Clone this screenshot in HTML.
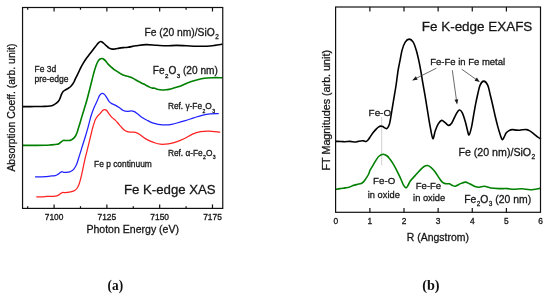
<!DOCTYPE html>
<html><head><meta charset="utf-8">
<style>
html,body{margin:0;padding:0;background:#fff;}
body{width:550px;height:298px;overflow:hidden;}
svg{display:block;}
text{font-family:"Liberation Sans",Arial,sans-serif;fill:#151515;stroke:#151515;stroke-width:0.28px;}
.d text{stroke-width:0.3px;}
.cap{font-family:"Liberation Serif","Times New Roman",serif;font-weight:bold;fill:#111;stroke-width:0;}
</style></head><body>
<svg width="550" height="298" viewBox="0 0 550 298">
<rect width="550" height="298" fill="#fff"/>
<!-- LEFT PLOT -->
<g fill="none" stroke-linejoin="round" stroke-linecap="round">
<path d="M36.80 196.90 C37.68 196.90 40.38 196.98 42.10 196.90 C43.82 196.82 45.25 196.50 47.10 196.40 C48.95 196.30 51.60 196.38 53.20 196.30 C54.80 196.22 55.70 196.18 56.70 195.90 C57.70 195.62 58.28 195.15 59.20 194.60 C60.12 194.05 61.20 192.93 62.20 192.60 C63.20 192.27 64.02 192.68 65.20 192.60 C66.38 192.52 67.95 192.35 69.30 192.10 C70.65 191.85 72.22 191.52 73.30 191.10 C74.38 190.68 75.05 190.28 75.80 189.60 C76.55 188.92 77.22 188.02 77.80 187.00 C78.38 185.98 78.83 184.83 79.30 183.50 C79.77 182.17 80.18 180.58 80.60 179.00 C81.02 177.42 81.43 175.62 81.80 174.00 C82.17 172.38 82.30 171.67 82.80 169.30 C83.30 166.93 84.08 162.92 84.80 159.80 C85.52 156.68 86.35 153.63 87.10 150.60 C87.85 147.57 88.58 144.53 89.30 141.60 C90.02 138.67 90.85 135.27 91.40 133.00 C91.95 130.73 92.20 129.48 92.60 128.00 C93.00 126.52 93.33 125.50 93.80 124.10 C94.27 122.70 94.80 120.90 95.40 119.60 C96.00 118.30 96.62 117.30 97.40 116.30 C98.18 115.30 99.23 114.57 100.10 113.60 C100.97 112.63 101.85 111.18 102.60 110.50 C103.35 109.82 103.92 109.50 104.60 109.50 C105.28 109.50 105.93 109.73 106.70 110.50 C107.47 111.27 108.28 112.92 109.20 114.10 C110.12 115.28 111.20 116.60 112.20 117.60 C113.20 118.60 114.03 118.93 115.20 120.10 C116.37 121.27 117.85 123.08 119.20 124.60 C120.55 126.12 121.95 128.02 123.30 129.20 C124.65 130.38 125.97 131.20 127.30 131.70 C128.63 132.20 129.95 132.08 131.30 132.20 C132.65 132.32 134.05 132.07 135.40 132.40 C136.75 132.73 137.60 133.08 139.40 134.20 C141.20 135.32 143.73 137.70 146.20 139.10 C148.67 140.50 151.85 141.75 154.20 142.60 C156.55 143.45 157.95 144.00 160.30 144.20 C162.65 144.40 165.62 144.20 168.30 143.80 C170.98 143.40 173.70 142.68 176.40 141.80 C179.10 140.92 181.82 139.78 184.50 138.50 C187.18 137.22 189.82 135.23 192.50 134.10 C195.18 132.97 197.92 132.20 200.60 131.70 C203.28 131.20 205.42 131.03 208.60 131.10 C211.78 131.17 217.85 131.93 219.70 132.10" stroke="#ff2020" stroke-width="1.25"/>
<path d="M35.50 176.90 C36.27 176.90 38.50 176.95 40.10 176.90 C41.70 176.85 43.43 176.73 45.10 176.60 C46.77 176.47 48.42 176.27 50.10 176.10 C51.78 175.93 53.85 175.93 55.20 175.60 C56.55 175.27 57.37 174.60 58.20 174.10 C59.03 173.60 59.57 173.02 60.20 172.60 C60.83 172.18 61.42 171.65 62.00 171.60 C62.58 171.55 62.98 172.17 63.70 172.30 C64.42 172.43 65.28 172.47 66.30 172.40 C67.32 172.33 68.80 172.20 69.80 171.90 C70.80 171.60 71.60 171.10 72.30 170.60 C73.00 170.10 73.42 169.67 74.00 168.90 C74.58 168.13 75.27 167.02 75.80 166.00 C76.33 164.98 76.58 164.57 77.20 162.80 C77.82 161.03 78.65 158.15 79.50 155.40 C80.35 152.65 81.33 149.40 82.30 146.30 C83.27 143.20 84.37 139.87 85.30 136.80 C86.23 133.73 86.93 131.40 87.90 127.90 C88.87 124.40 90.07 119.20 91.10 115.80 C92.13 112.40 93.10 109.95 94.10 107.50 C95.10 105.05 96.18 103.13 97.10 101.10 C98.02 99.07 98.77 96.60 99.60 95.30 C100.43 94.00 101.27 93.42 102.10 93.30 C102.93 93.18 103.83 93.88 104.60 94.60 C105.37 95.32 105.93 96.43 106.70 97.60 C107.47 98.77 108.37 100.60 109.20 101.60 C110.03 102.60 110.70 103.02 111.70 103.60 C112.70 104.18 113.95 104.43 115.20 105.10 C116.45 105.77 117.85 106.70 119.20 107.60 C120.55 108.50 121.95 109.87 123.30 110.50 C124.65 111.13 125.97 111.33 127.30 111.40 C128.63 111.47 130.13 110.87 131.30 110.90 C132.47 110.93 133.28 111.13 134.30 111.60 C135.32 112.07 136.08 112.72 137.40 113.70 C138.72 114.68 140.60 116.42 142.20 117.50 C143.80 118.58 145.40 119.35 147.00 120.20 C148.60 121.05 150.30 122.00 151.80 122.60 C153.30 123.20 154.60 123.47 156.00 123.80 C157.40 124.13 158.78 124.42 160.20 124.60 C161.62 124.78 163.10 124.87 164.50 124.90 C165.90 124.93 167.22 124.93 168.60 124.80 C169.98 124.67 171.40 124.40 172.80 124.10 C174.20 123.80 174.92 123.58 177.00 123.00 C179.08 122.42 182.52 121.45 185.30 120.60 C188.08 119.75 190.92 118.78 193.70 117.90 C196.48 117.02 199.22 115.98 202.00 115.30 C204.78 114.62 207.68 114.08 210.40 113.80 C213.12 113.52 216.98 113.63 218.30 113.60" stroke="#2020ff" stroke-width="1.25"/>
<path d="M23.00 145.40 C25.00 145.40 31.33 145.42 35.00 145.40 C38.67 145.38 42.33 145.38 45.00 145.30 C47.67 145.22 48.98 145.07 51.00 144.90 C53.02 144.73 55.75 144.52 57.10 144.30 C58.45 144.08 58.43 143.98 59.10 143.60 C59.77 143.22 60.43 142.52 61.10 142.00 C61.77 141.48 62.27 140.75 63.10 140.50 C63.93 140.25 65.08 140.50 66.10 140.50 C67.12 140.50 68.35 140.60 69.20 140.50 C70.05 140.40 70.53 140.20 71.20 139.90 C71.87 139.60 72.52 139.32 73.20 138.70 C73.88 138.08 74.70 137.12 75.30 136.20 C75.90 135.28 76.30 134.47 76.80 133.20 C77.30 131.93 77.68 130.58 78.30 128.60 C78.92 126.62 79.75 123.80 80.50 121.30 C81.25 118.80 82.03 116.15 82.80 113.60 C83.57 111.05 84.42 108.27 85.10 106.00 C85.78 103.73 86.15 102.73 86.90 100.00 C87.65 97.27 88.75 92.93 89.60 89.60 C90.45 86.27 91.27 82.90 92.00 80.00 C92.73 77.10 93.32 74.62 94.00 72.20 C94.68 69.78 95.42 67.35 96.10 65.50 C96.78 63.65 97.43 62.18 98.10 61.10 C98.77 60.02 99.43 59.43 100.10 59.00 C100.77 58.57 101.43 58.42 102.10 58.50 C102.77 58.58 103.43 59.00 104.10 59.50 C104.77 60.00 105.43 60.73 106.10 61.50 C106.77 62.27 107.25 63.17 108.10 64.10 C108.95 65.03 110.18 66.18 111.20 67.10 C112.22 68.02 113.00 68.73 114.20 69.60 C115.40 70.47 117.18 71.53 118.40 72.30 C119.62 73.07 120.47 73.67 121.50 74.20 C122.53 74.73 123.55 75.15 124.60 75.50 C125.65 75.85 126.75 76.00 127.80 76.30 C128.85 76.60 129.87 76.87 130.90 77.30 C131.93 77.73 132.95 78.32 134.00 78.90 C135.05 79.48 135.97 80.12 137.20 80.80 C138.43 81.48 140.00 82.30 141.40 83.00 C142.80 83.70 144.33 84.37 145.60 85.00 C146.87 85.63 147.97 86.30 149.00 86.80 C150.03 87.30 150.80 87.75 151.80 88.00 C152.80 88.25 154.12 88.10 155.00 88.30 C155.88 88.50 155.88 88.92 157.10 89.20 C158.32 89.48 160.73 89.92 162.30 90.00 C163.87 90.08 165.10 89.87 166.50 89.70 C167.90 89.53 168.62 89.52 170.70 89.00 C172.78 88.48 176.22 87.62 179.00 86.60 C181.78 85.58 184.60 83.97 187.40 82.90 C190.20 81.83 193.02 80.97 195.80 80.20 C198.58 79.43 201.32 78.72 204.10 78.30 C206.88 77.88 209.52 77.80 212.50 77.70 C215.48 77.60 220.42 77.70 222.00 77.70" stroke="#008000" stroke-width="1.6"/>
<path d="M23.00 106.60 C24.17 106.60 27.17 106.62 30.00 106.60 C32.83 106.58 37.50 106.53 40.00 106.50 C42.50 106.47 43.33 106.48 45.00 106.40 C46.67 106.32 48.65 106.20 50.00 106.00 C51.35 105.80 52.08 105.63 53.10 105.20 C54.12 104.77 55.18 104.08 56.10 103.40 C57.02 102.72 57.93 101.98 58.60 101.10 C59.27 100.22 59.60 99.27 60.10 98.10 C60.60 96.93 61.10 95.18 61.60 94.10 C62.10 93.02 62.52 92.27 63.10 91.60 C63.68 90.93 64.25 90.65 65.10 90.10 C65.95 89.55 67.27 88.90 68.20 88.30 C69.13 87.70 69.95 87.22 70.70 86.50 C71.45 85.78 72.12 84.83 72.70 84.00 C73.28 83.17 73.78 82.30 74.20 81.50 C74.62 80.70 74.53 80.60 75.20 79.20 C75.87 77.80 77.27 75.03 78.20 73.10 C79.13 71.17 79.95 69.27 80.80 67.60 C81.65 65.93 82.38 64.62 83.30 63.10 C84.22 61.58 85.17 60.08 86.30 58.50 C87.43 56.92 88.63 55.50 90.10 53.60 C91.57 51.70 93.75 48.85 95.10 47.10 C96.45 45.35 97.27 44.03 98.20 43.10 C99.13 42.17 99.87 41.53 100.70 41.50 C101.53 41.47 102.28 42.22 103.20 42.90 C104.12 43.58 105.20 44.73 106.20 45.60 C107.20 46.47 108.18 47.52 109.20 48.10 C110.22 48.68 111.28 48.97 112.30 49.10 C113.32 49.23 114.13 49.07 115.30 48.90 C116.47 48.73 117.97 48.32 119.30 48.10 C120.63 47.88 121.83 47.75 123.30 47.60 C124.77 47.45 125.97 47.50 128.10 47.20 C130.23 46.90 133.08 46.23 136.10 45.80 C139.12 45.37 142.83 44.70 146.20 44.60 C149.57 44.50 152.95 45.00 156.30 45.20 C159.65 45.40 162.95 45.77 166.30 45.80 C169.65 45.83 173.03 45.40 176.40 45.40 C179.77 45.40 183.13 45.67 186.50 45.80 C189.87 45.93 193.25 46.13 196.60 46.20 C199.95 46.27 203.58 46.33 206.60 46.20 C209.62 46.07 212.13 45.73 214.70 45.40 C217.27 45.07 220.78 44.40 222.00 44.20" stroke="#000" stroke-width="1.6"/>
</g>
<g stroke="#111" stroke-width="1.2"><line x1="27.68" y1="208.4" x2="27.68" y2="206.20"/><line x1="27.68" y1="7.5" x2="27.68" y2="9.70"/><line x1="54.08" y1="208.4" x2="54.08" y2="204.40"/><line x1="54.08" y1="7.5" x2="54.08" y2="11.50"/><line x1="80.48" y1="208.4" x2="80.48" y2="206.20"/><line x1="80.48" y1="7.5" x2="80.48" y2="9.70"/><line x1="106.88" y1="208.4" x2="106.88" y2="204.40"/><line x1="106.88" y1="7.5" x2="106.88" y2="11.50"/><line x1="133.28" y1="208.4" x2="133.28" y2="206.20"/><line x1="133.28" y1="7.5" x2="133.28" y2="9.70"/><line x1="159.68" y1="208.4" x2="159.68" y2="204.40"/><line x1="159.68" y1="7.5" x2="159.68" y2="11.50"/><line x1="186.08" y1="208.4" x2="186.08" y2="206.20"/><line x1="186.08" y1="7.5" x2="186.08" y2="9.70"/><line x1="212.48" y1="208.4" x2="212.48" y2="204.40"/><line x1="212.48" y1="7.5" x2="212.48" y2="11.50"/></g>
<rect x="22.55" y="7.5" width="200.2" height="200.9" fill="none" stroke="#111" stroke-width="1.2"/>
<g class="d" font-size="8.4"><text x="54.08" y="219.9" text-anchor="middle">7100</text><text x="106.88" y="219.9" text-anchor="middle">7125</text><text x="159.68" y="219.9" text-anchor="middle">7150</text><text x="212.48" y="219.9" text-anchor="middle">7175</text></g>
<text x="86.4" y="232.5" font-size="10.55">Photon Energy (eV)</text>
<text transform="translate(14.9,171.6) rotate(-90)" font-size="10.45">Absorption Coeff. (arb. unit)</text>
<text x="144.4" y="35.7" font-size="10.3">Fe (20 nm)/SiO<tspan dx="0.4" dy="3.5" font-size="0.62em">2</tspan><tspan dy="-3.5"></tspan></text>
<text x="152.8" y="74.2" font-size="10.1">Fe<tspan dx="0.4" dy="3.5" font-size="0.62em">2</tspan><tspan dy="-3.5">O<tspan dx="0.4" dy="3.5" font-size="0.62em">3</tspan><tspan dy="-3.5"> (20 nm)</tspan></text>
<text x="34.5" y="71.9" font-size="8.5">Fe 3d</text>
<text x="34.5" y="82.3" font-size="8.5">pre-edge</text>
<text x="167.9" y="109.3" font-size="8.3">Ref. γ-Fe<tspan dx="0.4" dy="3.5" font-size="0.62em">2</tspan><tspan dy="-3.5">O<tspan dx="0.4" dy="3.5" font-size="0.62em">3</tspan><tspan dy="-3.5"></tspan></text>
<text x="167.9" y="155.9" font-size="8.3">Ref. α-Fe<tspan dx="0.4" dy="3.5" font-size="0.62em">2</tspan><tspan dy="-3.5">O<tspan dx="0.4" dy="3.5" font-size="0.62em">3</tspan><tspan dy="-3.5"></tspan></text>
<text x="94.1" y="166.5" font-size="8.4">Fe p continuum</text>
<text x="124.0" y="194.1" font-size="13.2">Fe K-edge XAS</text>
<!-- RIGHT PLOT -->
<line x1="381.7" y1="117.5" x2="381.7" y2="165.6" stroke="#999" stroke-width="0.8" stroke-dasharray="1.2,0.8"/>
<g fill="none" stroke-linejoin="round" stroke-linecap="round">
<path d="M336.00 189.30 C336.67 189.18 338.48 188.83 340.00 188.60 C341.52 188.37 343.58 188.12 345.10 187.90 C346.62 187.68 347.77 187.68 349.10 187.30 C350.43 186.92 351.75 186.08 353.10 185.60 C354.45 185.12 355.85 184.77 357.20 184.40 C358.55 184.03 360.12 183.87 361.20 183.40 C362.28 182.93 362.87 182.48 363.70 181.60 C364.53 180.72 365.37 179.37 366.20 178.10 C367.03 176.83 368.05 175.33 368.70 174.00 C369.35 172.67 369.37 171.58 370.10 170.10 C370.83 168.62 372.10 166.77 373.10 165.10 C374.10 163.43 375.08 161.62 376.10 160.10 C377.12 158.58 378.02 156.98 379.20 156.00 C380.38 155.02 381.87 154.20 383.20 154.20 C384.53 154.20 386.03 155.10 387.20 156.00 C388.37 156.90 389.18 158.25 390.20 159.60 C391.22 160.95 392.28 162.43 393.30 164.10 C394.32 165.77 395.30 167.67 396.30 169.60 C397.30 171.53 398.43 173.88 399.30 175.70 C400.17 177.52 400.80 178.93 401.50 180.50 C402.20 182.07 402.73 183.87 403.50 185.10 C404.27 186.33 405.32 187.92 406.10 187.90 C406.88 187.88 407.50 186.15 408.20 185.00 C408.90 183.85 409.15 182.57 410.30 181.00 C411.45 179.43 413.47 177.42 415.10 175.60 C416.73 173.78 418.60 171.62 420.10 170.10 C421.60 168.58 422.83 167.27 424.10 166.50 C425.37 165.73 426.52 165.32 427.70 165.50 C428.88 165.68 429.95 166.50 431.20 167.60 C432.45 168.70 433.87 170.35 435.20 172.10 C436.53 173.85 438.02 176.42 439.20 178.10 C440.38 179.78 441.28 181.28 442.30 182.20 C443.32 183.12 444.13 183.33 445.30 183.60 C446.47 183.87 448.18 183.53 449.30 183.80 C450.42 184.07 451.03 184.78 452.00 185.20 C452.97 185.62 453.88 186.47 455.10 186.30 C456.32 186.13 457.63 184.90 459.30 184.20 C460.97 183.50 463.37 182.17 465.10 182.10 C466.83 182.03 468.05 183.07 469.70 183.80 C471.35 184.53 473.43 185.93 475.00 186.50 C476.57 187.07 477.53 187.23 479.10 187.20 C480.67 187.17 482.48 186.17 484.40 186.30 C486.32 186.43 488.17 187.62 490.60 188.00 C493.03 188.38 496.20 188.50 499.00 188.60 C501.80 188.70 504.97 188.48 507.40 188.60 C509.83 188.72 511.17 189.27 513.60 189.30 C516.03 189.33 519.20 188.73 522.00 188.80 C524.80 188.87 527.40 189.77 530.40 189.70 C533.40 189.63 538.40 188.62 540.00 188.40" stroke="#008000" stroke-width="1.6"/>
<path d="M336.00 141.40 C336.83 141.42 339.50 141.45 341.00 141.50 C342.50 141.55 343.50 141.72 345.00 141.70 C346.50 141.68 348.32 141.35 350.00 141.40 C351.68 141.45 353.75 142.00 355.10 142.00 C356.45 142.00 356.93 141.62 358.10 141.40 C359.27 141.18 361.10 140.77 362.10 140.70 C363.10 140.63 363.43 140.88 364.10 141.00 C364.77 141.12 365.42 141.62 366.10 141.40 C366.78 141.18 367.43 140.58 368.20 139.70 C368.97 138.82 369.87 137.28 370.70 136.10 C371.53 134.92 372.28 133.77 373.20 132.60 C374.12 131.43 375.28 130.05 376.20 129.10 C377.12 128.15 377.93 127.40 378.70 126.90 C379.47 126.40 380.12 126.15 380.80 126.10 C381.48 126.05 382.13 126.30 382.80 126.60 C383.47 126.90 384.18 127.57 384.80 127.90 C385.42 128.23 386.00 128.65 386.50 128.60 C387.00 128.55 387.33 128.27 387.80 127.60 C388.27 126.93 388.88 125.87 389.30 124.60 C389.72 123.33 389.83 122.57 390.30 120.00 C390.77 117.43 391.47 113.02 392.10 109.20 C392.73 105.38 393.43 101.13 394.10 97.10 C394.77 93.07 395.43 89.47 396.10 85.00 C396.77 80.53 397.43 74.43 398.10 70.30 C398.77 66.17 399.43 63.57 400.10 60.20 C400.77 56.83 401.25 53.12 402.10 50.10 C402.95 47.08 404.02 43.93 405.20 42.10 C406.38 40.27 407.87 39.10 409.20 39.10 C410.53 39.10 412.03 40.27 413.20 42.10 C414.37 43.93 415.28 47.08 416.20 50.10 C417.12 53.12 417.95 56.83 418.70 60.20 C419.45 63.57 420.03 66.62 420.70 70.30 C421.37 73.98 421.93 77.83 422.70 82.30 C423.47 86.77 424.43 91.95 425.30 97.10 C426.17 102.25 427.07 108.17 427.90 113.20 C428.73 118.23 429.47 123.07 430.30 127.30 C431.13 131.53 432.08 137.98 432.90 138.60 C433.72 139.22 434.33 133.40 435.20 131.00 C436.07 128.60 437.03 125.97 438.10 124.20 C439.17 122.43 440.42 120.65 441.60 120.40 C442.78 120.15 444.05 121.87 445.20 122.70 C446.35 123.53 447.40 125.35 448.50 125.40 C449.60 125.45 450.55 124.85 451.80 123.00 C453.05 121.15 454.77 116.47 456.00 114.30 C457.23 112.13 458.17 110.28 459.20 110.00 C460.23 109.72 461.20 110.73 462.20 112.60 C463.20 114.47 464.37 118.43 465.20 121.20 C466.03 123.97 466.57 126.90 467.20 129.20 C467.83 131.50 468.30 135.27 469.00 135.00 C469.70 134.73 470.65 130.80 471.40 127.60 C472.15 124.40 472.80 119.70 473.50 115.80 C474.20 111.90 474.90 107.80 475.60 104.20 C476.30 100.60 476.95 97.38 477.70 94.20 C478.45 91.02 479.10 87.28 480.10 85.10 C481.10 82.92 482.43 81.10 483.70 81.10 C484.97 81.10 486.63 82.92 487.70 85.10 C488.77 87.28 489.30 91.02 490.10 94.20 C490.90 97.38 491.65 100.52 492.50 104.20 C493.35 107.88 494.32 112.57 495.20 116.30 C496.08 120.03 496.95 123.48 497.80 126.60 C498.65 129.72 499.57 132.83 500.30 135.00 C501.03 137.17 501.57 139.23 502.20 139.60 C502.83 139.97 503.45 138.28 504.10 137.20 C504.75 136.12 505.27 134.20 506.10 133.10 C506.93 132.00 508.08 131.18 509.10 130.60 C510.12 130.02 511.02 129.68 512.20 129.60 C513.38 129.52 515.03 129.98 516.20 130.10 C517.37 130.22 518.20 130.35 519.20 130.30 C520.20 130.25 521.02 129.92 522.20 129.80 C523.38 129.68 525.12 129.47 526.30 129.60 C527.48 129.73 528.30 130.10 529.30 130.60 C530.30 131.10 531.30 131.85 532.30 132.60 C533.30 133.35 534.38 134.33 535.30 135.10 C536.22 135.87 536.95 136.60 537.80 137.20 C538.65 137.80 539.97 138.45 540.40 138.70" stroke="#000" stroke-width="1.6"/>
</g>
<g stroke="#111" stroke-width="1.2"><line x1="369.88" y1="212.3" x2="369.88" y2="207.90"/><line x1="369.88" y1="7" x2="369.88" y2="11.40"/><line x1="404.01" y1="212.3" x2="404.01" y2="207.90"/><line x1="404.01" y1="7" x2="404.01" y2="11.40"/><line x1="438.14" y1="212.3" x2="438.14" y2="207.90"/><line x1="438.14" y1="7" x2="438.14" y2="11.40"/><line x1="472.27" y1="212.3" x2="472.27" y2="207.90"/><line x1="472.27" y1="7" x2="472.27" y2="11.40"/><line x1="506.40" y1="212.3" x2="506.40" y2="207.90"/><line x1="506.40" y1="7" x2="506.40" y2="11.40"/></g>
<rect x="335.6" y="7" width="204.9" height="205.3" fill="none" stroke="#111" stroke-width="1.2"/>
<g class="d" font-size="8.4"><text x="335.75" y="223.6" text-anchor="middle">0</text><text x="369.88" y="223.6" text-anchor="middle">1</text><text x="404.01" y="223.6" text-anchor="middle">2</text><text x="438.14" y="223.6" text-anchor="middle">3</text><text x="472.27" y="223.6" text-anchor="middle">4</text><text x="506.40" y="223.6" text-anchor="middle">5</text><text x="540.53" y="223.6" text-anchor="middle">6</text></g>
<text x="406.8" y="240.9" font-size="10.45">R (Angstrom)</text>
<text transform="translate(329.6,170.5) rotate(-90)" font-size="10.75">FT Magnitudes (arb. unit)</text>
<text x="421.8" y="30.5" font-size="13.45">Fe K-edge EXAFS</text>
<text x="430.2" y="65.4" font-size="9.5">Fe-Fe in Fe metal</text>
<text x="368.6" y="116.4" font-size="9.9">Fe-O</text>
<text x="458.4" y="155.5" font-size="10.65">Fe (20 nm)/SiO<tspan dx="0.4" dy="3.5" font-size="0.62em">2</tspan><tspan dy="-3.5"></tspan></text>
<text x="373.1" y="184.3" font-size="9.7">Fe-O</text>
<text x="367.8" y="197.7" font-size="9.3">in oxide</text>
<text x="415.8" y="188.9" font-size="9.5">Fe-Fe</text>
<text x="413.1" y="201" font-size="9.3">in oxide</text>
<text x="464.2" y="202.6" font-size="10.4">Fe<tspan dx="0.4" dy="3.5" font-size="0.62em">2</tspan><tspan dy="-3.5">O<tspan dx="0.4" dy="3.5" font-size="0.62em">3</tspan><tspan dy="-3.5"> (20 nm)</tspan></text>
<!-- arrows -->
<g stroke="#3a3a3a" stroke-width="0.75" fill="#1a1a1a"><line x1="436.40" y1="68.20" x2="415.82" y2="78.53"/><polygon stroke="none" points="412.10,80.40 415.89,76.37 417.60,79.76"/><line x1="452.30" y1="70.20" x2="456.53" y2="100.48"/><polygon stroke="none" points="457.10,104.60 454.50,99.71 458.26,99.19"/><line x1="461.70" y1="69.20" x2="476.51" y2="79.69"/><polygon stroke="none" points="479.90,82.10 474.56,80.64 476.76,77.54"/></g>
<!-- captions -->
<text class="cap" x="107.5" y="290" font-size="15" textLength="15.6" lengthAdjust="spacingAndGlyphs">(a)</text>
<text class="cap" x="422.2" y="290" font-size="15" textLength="17.4" lengthAdjust="spacingAndGlyphs">(b)</text>
</svg>
</body></html>
